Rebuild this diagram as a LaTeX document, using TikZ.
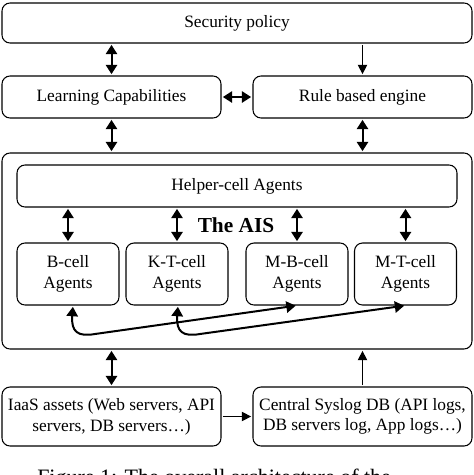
\documentclass[tikz,border=0pt]{standalone}
\usepackage{fontspec}
\setmainfont{Liberation Serif}
\usepackage{tikz}
\usetikzlibrary{arrows.meta, positioning, calc}

\begin{document}
\begin{tikzpicture}[
    x=0.75pt, y=-0.75pt,
    basebox/.style={draw=black, line width=0.8pt, fill=white, rectangle, rounded corners=6pt, align=center, inner sep=2pt, font=\fontsize{13}{15.5}\selectfont},
    widebox/.style={basebox, minimum width=352.5pt, minimum height=30pt},
    halfbox/.style={basebox, minimum width=164.25pt, minimum height=31.5pt},
    cellbox/.style={basebox, minimum width=76.5pt, minimum height=46.5pt},
    assetbox/.style={basebox, minimum width=164.25pt, minimum height=44.25pt},
    aisbox/.style={draw=black, line width=0.8pt, rectangle, rounded corners=6pt, minimum width=352.5pt, minimum height=147pt},
    dblarrow/.style={{Triangle[length=7pt,width=8.5pt]}-{Triangle[length=7pt,width=8.5pt]}, line width=1.5pt, shorten <=1pt, shorten >=1pt},
    arrow/.style={-{Triangle[length=7pt,width=7pt]}, line width=0.9pt, shorten <=1pt, shorten >=1pt}
]
\useasboundingbox (0,0) rectangle (474,475);
\clip (0,0) rectangle (474,475);

% Upper layer
\node (sec) [widebox] at (237,23) {Security policy};
\node (learn) [halfbox] at (111.5,97) {Learning Capabilities};
\node (rule) [halfbox] at (362.5,97) {Rule based engine};

% The AIS block
\node (ais) [aisbox] at (237,251) {};
\node (helper) [basebox, minimum width=330pt, minimum height=31.5pt] at (237,186) {Helper-cell Agents};
\node (aislabel) at (236,225) {\fontsize{16}{18}\selectfont\bfseries The AIS};
\node (bcell) [cellbox] at (68,274) {B-cell\\Agents};
\node (ktcell) [cellbox] at (177,274) {K-T-cell\\Agents};
\node (mbcell) [cellbox] at (297,274) {M-B-cell\\Agents};
\node (mtcell) [cellbox] at (405.5,274) {M-T-cell\\Agents};

% Lower layer
\node (iaas) [assetbox] at (111.5,416.5) {IaaS assets (Web servers, API\\servers, DB servers\ldots)};
\node (syslog) [assetbox] at (362.5,416.5) {Central Syslog DB (API logs,\\DB servers log, App logs\ldots)};

% Caption
\node (caption) [anchor=base west, inner sep=0pt, font=\fontsize{16.5}{19}\selectfont] at (37,484) {Figure 1: The overall architecture of the};

% Connections
\draw [dblarrow] (learn.north) -- (sec.south -| learn);
\draw [arrow] (sec.south -| rule) -- (rule.north);
\draw [dblarrow] (learn) -- (rule);
\draw [dblarrow] (learn.south) -- (ais.north -| learn);
\draw [dblarrow] (rule.south) -- (ais.north -| rule);

\draw [dblarrow] (bcell.north) -- (helper.south -| bcell);
\draw [dblarrow] (ktcell.north) -- (helper.south -| ktcell);
\draw [dblarrow] (mbcell.north) -- (helper.south -| mbcell);
\draw [dblarrow] (mtcell.north) -- (helper.south -| mtcell);

\coordinate (bdip) at (95,334);
\coordinate (kdip) at (200,334);
\draw [dblarrow] ([xshift=3.75pt]bcell.south) .. controls (71,332) and (78,337) .. (bdip) -- (mbcell.south);
\draw [dblarrow] ([xshift=0.75pt]ktcell.south) .. controls (176,332) and (183,337) .. (kdip) -- (mtcell.south);

\draw [dblarrow] (iaas.north) -- (ais.south -| iaas);
\draw [arrow] (syslog.north) -- (ais.south -| syslog);
\draw [arrow] (iaas) -- (syslog);

\end{tikzpicture}
\end{document}
